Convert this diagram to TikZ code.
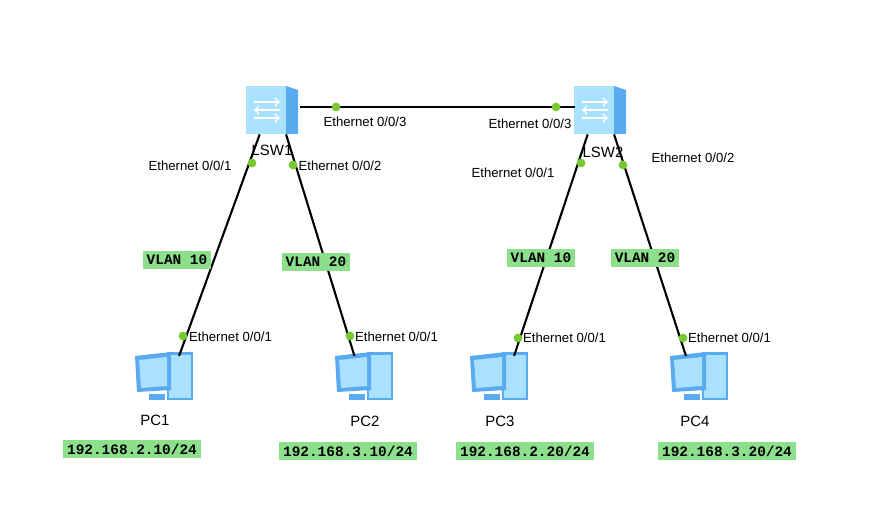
\documentclass[tikz,border=0pt]{standalone}
\usepackage{fontspec}
\setmainfont{Liberation Sans}
\newfontfamily\ipfont{Liberation Mono}
\usetikzlibrary{positioning}
\definecolor{tagbg}{RGB}{140,224,140}
\definecolor{dotc}{RGB}{120,200,50}
\definecolor{icolight}{RGB}{170,225,255}
\definecolor{icodark}{RGB}{90,170,240}
\tikzstyle{port} = [font=\fontsize{7.5}{9}\selectfont, inner sep=1pt]
\tikzstyle{tag} = [fill=tagbg, font=\ipfont\fontsize{8.2}{10}\selectfont\bfseries, inner sep=2.2pt]
\tikzstyle{link} = [line width=1.2pt]
\tikzstyle{dot} = [circle, fill=dotc, inner sep=0pt, minimum size=5pt]
\begin{document}
\begin{tikzpicture}[x=0.02cm, y=-0.02cm]
  \useasboundingbox (0,0) rectangle (875,513);
  % switch icons
  \foreach \n/\x in {lsw1/272, lsw2/600} {
    \fill[icolight] (\x-26,86) rectangle (\x+14,134);
    \fill[icodark] (\x+14,86) -- (\x+26,90) -- (\x+26,134) -- (\x+14,134) -- cycle;
    \draw[white, line width=1pt, ->] (\x-18,102) -- (\x+8,102);
    \draw[white, line width=1pt, <-] (\x-18,110) -- (\x+8,110);
    \draw[white, line width=1pt, ->] (\x-18,118) -- (\x+8,118);
    \node[minimum width=1.04cm, minimum height=0.96cm, inner sep=0pt] (\n) at (\x,110) {};
  }
  % PC icons
  \foreach \n/\x in {pc1/165, pc2/365, pc3/500, pc4/700} {
    \fill[icodark] (\x+2,352) rectangle (\x+28,400);
    \fill[icolight] (\x+4,355) rectangle (\x+26,398);
    \fill[icodark] (\x-30,356) -- (\x+6,352) -- (\x+6,390) -- (\x-28,392) -- cycle;
    \fill[icolight] (\x-26,360) -- (\x+2,357) -- (\x+2,386) -- (\x-24,388) -- cycle;
    \fill[icodark] (\x-16,394) rectangle (\x+0,400);
    \node[minimum width=1.2cm, minimum height=1cm, inner sep=0pt] (\n) at (\x,376) {};
  }
  \node[port, font=\fontsize{8.5}{10}\selectfont] at (272,150) {LSW1};
  \node[port, font=\fontsize{8.5}{10}\selectfont] at (603,152) {LSW2};
  \node[port, font=\fontsize{8.5}{10}\selectfont] at (155,420) {PC1};
  \node[port, font=\fontsize{8.5}{10}\selectfont] at (365,421) {PC2};
  \node[port, font=\fontsize{8.5}{10}\selectfont] at (500,421) {PC3};
  \node[port, font=\fontsize{8.5}{10}\selectfont] at (695,421) {PC4};
  % links
  \coordinate (s1r) at (300,107);
  \coordinate (s2l) at (575,107);
  \draw[link] (s1r) -- (s2l);
  \draw[link] ([xshift=-7pt]lsw1.south) -- ([xshift=8pt, yshift=-3pt]pc1.north);
  \draw[link] ([xshift=8pt]lsw1.south) -- ([xshift=-6pt, yshift=-3pt]pc2.north);
  \draw[link] ([xshift=-7pt]lsw2.south) -- ([xshift=8pt, yshift=-3pt]pc3.north);
  \draw[link] ([xshift=8pt]lsw2.south) -- ([xshift=-8pt, yshift=-3pt]pc4.north);
  % port dots
  \foreach \p in {(336,107),(556,107),(252,163),(183,336),(293,165),(350,336),(581,163),(518,338),(623,165),(683,338)}
    \node[dot] at \p {};
  % port labels
  \node[port] at (190,166) {Ethernet 0/0/1};
  \node[port] at (340,166) {Ethernet 0/0/2};
  \node[port] at (365,122) {Ethernet 0/0/3};
  \node[port] at (530,124) {Ethernet 0/0/3};
  \node[port] at (513,173) {Ethernet 0/0/1};
  \node[port] at (693,158) {Ethernet 0/0/2};
  \node[port, anchor=west] at (187,337) {Ethernet 0/0/1};
  \node[port, anchor=west] at (353,337) {Ethernet 0/0/1};
  \node[port, anchor=west] at (521,338) {Ethernet 0/0/1};
  \node[port, anchor=west] at (686,338) {Ethernet 0/0/1};
  % vlan tags
  \node[tag] at (177,260) {VLAN 10};
  \node[tag] at (316,262) {VLAN 20};
  \node[tag] at (541,258) {VLAN 10};
  \node[tag] at (645,258) {VLAN 20};
  % addresses
  \node[tag] at (132,449) {192.168.2.10/24};
  \node[tag] at (348,451) {192.168.3.10/24};
  \node[tag] at (525,451) {192.168.2.20/24};
  \node[tag] at (727,451) {192.168.3.20/24};
\end{tikzpicture}
\end{document}
